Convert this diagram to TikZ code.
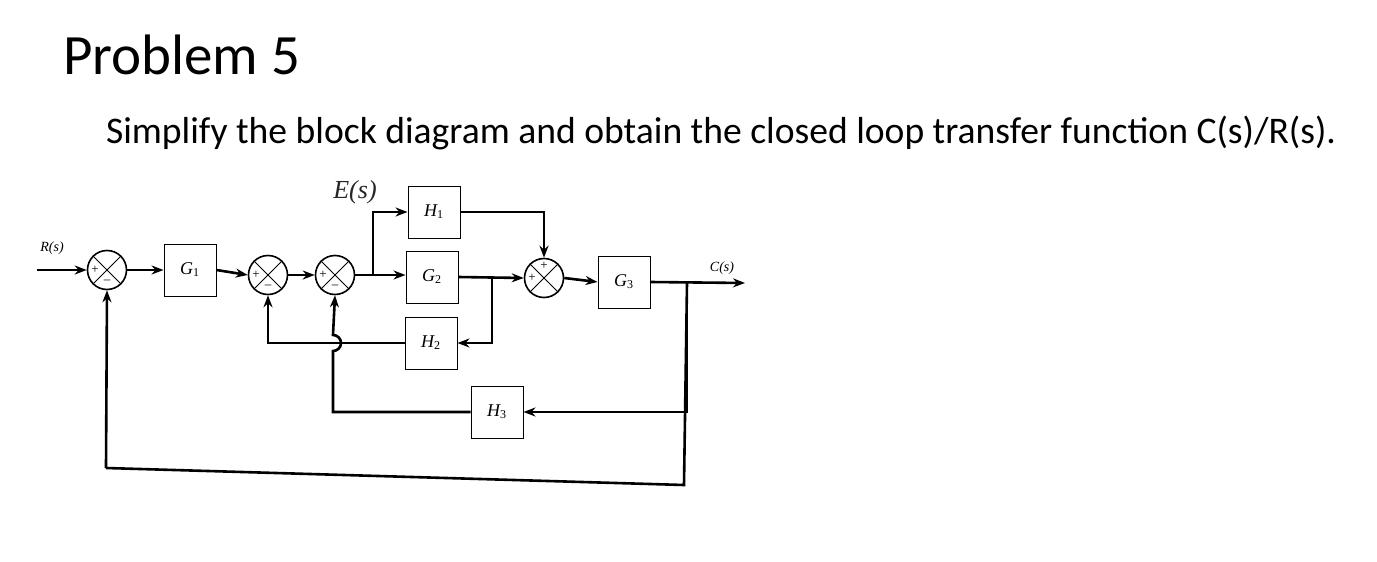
\documentclass[tikz,border=0pt]{standalone}
\usepackage{fontspec}
\setmainfont{Liberation Serif}
\newfontfamily\calfont{Carlito}
\usetikzlibrary{arrows.meta}
\begin{document}
\begin{tikzpicture}[x=0.5pt,y=-0.5pt,
  blk/.style={draw,line width=0.5pt,minimum width=26pt,minimum height=26pt,inner sep=0pt,font=\itshape\fontsize{9}{9}\selectfont},
  sumj/.style={draw,circle,line width=0.8pt,minimum size=19.5pt,inner sep=0pt},
  sig/.style={inner sep=0pt,font=\fontsize{6.5}{6.5}\selectfont},
  sg/.style={line width=1.3pt,-{Stealth[length=6pt,width=4.5pt]}},
  ln/.style={line width=1.3pt},
  lab/.style={font=\itshape\fontsize{7}{7}\selectfont}]
\useasboundingbox (0,0) rectangle (1377,562);
\node[anchor=west,font=\calfont\fontsize{28.5}{28.5}\selectfont] (title) at (56,55) {Problem 5};
\node[anchor=west,font=\calfont\fontsize{18.8}{18.8}\selectfont] (sub) at (99,133) {Simplify the block diagram and obtain the closed loop transfer function C(s)/R(s).};
% junctions
\node[sumj] (s1) at (107,270) {};
\node[sumj] (s2) at (268,275) {};
\node[sumj] (s3) at (335,275) {};
\node[sumj] (s4) at (544,278) {};
\foreach \s in {s1,s2,s3,s4}{
  \draw[line width=0.4pt] (\s.north east)--(\s.south west) (\s.north west)--(\s.south east);}
\foreach \s in {s1,s2,s3}{
  \node[sig] at ([xshift=-6pt]\s.center) {+};
  \node[sig] at ([yshift=-6pt]\s.center) {--};}
\node[sig] at ([xshift=-6pt]s4.center) {+};
\node[sig] at ([yshift=6pt]s4.center) {+};
% blocks
\node[blk] (G1) at (190,270) {G\textsubscript{\upshape 1}};
\node[blk] (H1) at (434,212) {H\textsubscript{\upshape 1}};
\node[blk] (G2) at (432,277) {G\textsubscript{\upshape 2}};
\node[blk] (H2) at (431,343) {H\textsubscript{\upshape 2}};
\node[blk] (G3) at (624,282) {G\textsubscript{\upshape 3}};
\node[blk] (H3) at (497,412) {H\textsubscript{\upshape 3}};
% labels
\node[lab] (Rl) at (52,248) {R(s)};
\node[lab] (Cl) at (722,268) {C(s)};
\node[font=\itshape\fontsize{13}{13}\selectfont,text=black!85] (El) at (355,192) {E(s)};
% coordinates
\coordinate (e) at (373,275);
\coordinate (rin) at (37,270);
\coordinate (b2) at (492,277);
\coordinate (cb) at (687,283);
\coordinate (cout) at (745,283);
% forward path
\draw[sg] (rin) -- (s1.west);
\draw[sg] (s1.east) -- (G1.west);
\draw[sg] (G1.east) -- (s2.west);
\draw[sg] (s2.east) -- (s3.west);
\draw[ln] (s3.east) -- (e);
\draw[sg] (e) -- (e -| G2.west);
\draw[sg] (e) |- (H1.west);
\draw[sg] (H1.east) -| (s4.north);
\draw[sg] (G2.east) -- (s4.west);
\draw[sg] (s4.east) -- (G3.west);
\draw[sg] (G3.east) -- (cout);
% H2 loop
\draw[sg] (b2) |- (H2.east);
\draw[sg] (H2.west) -| (s2.south);
% H3 loop with jump
\draw[sg] (cb) |- (H3.east);
\draw[sg] (H3.west) -| (333,351) arc[start angle=90,end angle=-90,radius=8] -- (s3.south);
% outer loop
\draw[ln] (cb) -- (684,485) -- (106,468);
\draw[sg] (106,468) -- (s1.south);
\end{tikzpicture}
\end{document}
